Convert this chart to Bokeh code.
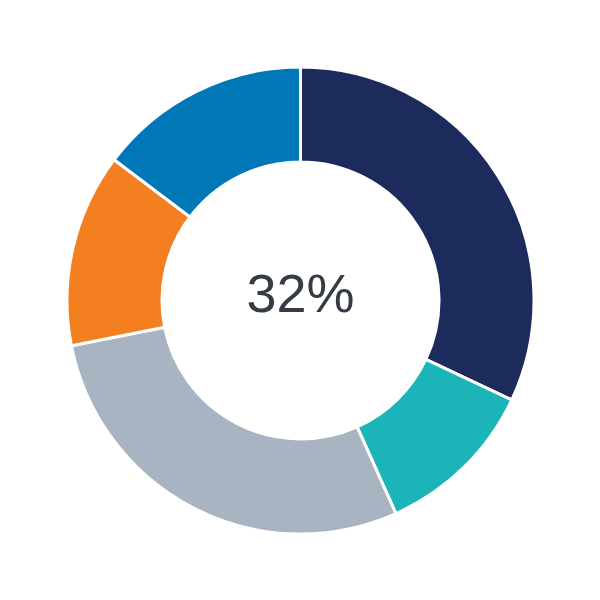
import numpy as np
from bokeh.plotting import figure
from bokeh.models import ColumnDataSource, Range1d
from bokeh.core.properties import value
from bokeh.embed import file_html
from bokeh.resources import INLINE

categories = ["A", "B", "C", "D", "E"]
values = [32.0, 11.3, 28.6, 13.4, 14.7]
colors = ["#1c2b5b", "#1bb4b8", "#a9b4c2", "#f37f20", "#0077b6"]
center_label = "32%"

vals = np.array(values, dtype=float)
frac = vals / vals.sum()
cum = np.concatenate([[0.0], np.cumsum(frac)])
start = np.pi / 2 - cum[:-1] * 2 * np.pi
end = np.pi / 2 - cum[1:] * 2 * np.pi

src = ColumnDataSource(dict(cat=categories, start=start, end=end, color=colors))

W = 600
p = figure(width=W, height=W, output_backend="svg", toolbar_location=None,
           x_range=Range1d(-W / 2, W / 2), y_range=Range1d(-W / 2, W / 2),
           min_border=0)
p.axis.visible = False
p.grid.visible = False
p.outline_line_color = None
p.background_fill_color = "white"

p.annular_wedge(x=0, y=0, inner_radius=138.5, outer_radius=233.5,
                start_angle="start", end_angle="end", direction="clock",
                fill_color="color", line_color="white", line_width=3, source=src)

p.text(x=[0], y=[8], text=[center_label], text_align="center",
       text_baseline="alphabetic", text_font=value("Liberation Sans"),
       text_font_size="54px", text_color="#363c46")

open("out.html", "w").write(file_html(p, INLINE))
